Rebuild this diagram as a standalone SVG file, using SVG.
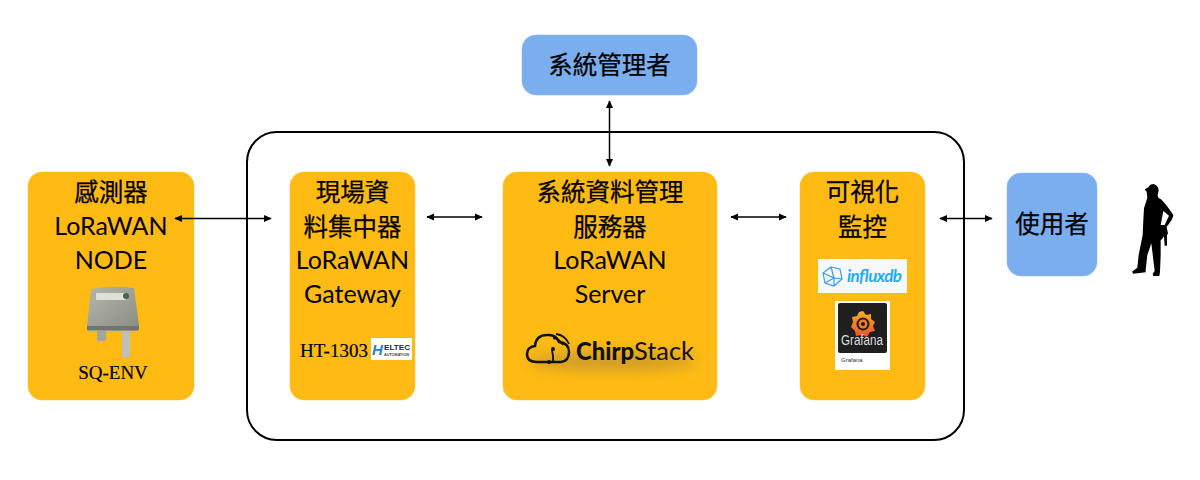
<svg xmlns="http://www.w3.org/2000/svg" width="1200" height="480" viewBox="0 0 1200 480">
<style>
.y{fill:#FFBB13;stroke:#F5C243;stroke-width:.5}
.b{fill:#7BAEEE;stroke:#8DB5E8;stroke-width:.5}
.t{font-family:"Lato","Noto Sans CJK TC","Noto Sans CJK SC",sans-serif;font-size:25px;fill:#000;text-anchor:middle}
.k{font-family:"Noto Sans CJK TC","Noto Sans CJK SC",sans-serif;font-size:24.500px;font-weight:400;fill:#000;stroke:#000;stroke-width:.25;text-anchor:middle}
.s{font-family:"Liberation Serif",serif;fill:#000;text-anchor:middle}
.c{fill:none;stroke:#000;stroke-width:1.500;marker-start:url(#a);marker-end:url(#a)}
</style>
<defs>
<marker id="a" viewBox="0 0 10 10" refX="9" refY="5" markerWidth="8" markerHeight="8" orient="auto-start-reverse" markerUnits="userSpaceOnUse"><path d="M0 0.500L10 5L0 9.500Z" fill="#000"/></marker>
<filter id="sh" x="-20%" y="-50%" width="140%" height="220%"><feGaussianBlur stdDeviation="7"/></filter>
<filter id="bl" x="-10%" y="-10%" width="120%" height="120%"><feGaussianBlur stdDeviation=".4"/></filter>
<linearGradient id="gf" x1="0" y1="0" x2="0" y2="1"><stop offset="0" stop-color="#F9B023"/><stop offset="1" stop-color="#EE4F2A"/></linearGradient>
<linearGradient id="bd" x1="0" y1="0" x2="1" y2="1"><stop offset="0" stop-color="#B5B6AB"/><stop offset="1" stop-color="#8A8C80"/></linearGradient>
</defs>
<rect id="frame" x="247" y="132" width="717" height="308" rx="30" fill="#fff" stroke="#000" stroke-width="2"/>
<g id="admin"><rect class="b" x="522" y="35" width="175" height="60" rx="14"/><text class="k" x="609.500" y="74">系統管理者</text></g>
<g id="sensor">
<rect class="y" x="28" y="172" width="166" height="228" rx="14"/>
<text class="k" x="111" y="201">感測器</text><text class="t" x="111" y="235">LoRaWAN</text><text class="t" x="111" y="269">NODE</text>
<g filter="url(#bl)">
<rect x="97" y="328" width="9" height="13" rx="2" fill="#A3A59B"/>
<rect x="122" y="328" width="8" height="29" rx="1" fill="#BFC0B8"/>
<path d="M91 289Q112 285 134 288L139 325L138 331L88 331L87 325Z" fill="url(#bd)"/>
<rect x="96" y="293" width="30" height="7" rx="1" fill="#DEDFD7"/>
<circle cx="126" cy="296" r="3" fill="#3F6B45"/>
<rect x="87" y="326" width="52" height="4" fill="#73756A"/>
</g>
<text class="s" x="113" y="379" font-size="19" font-weight="400" stroke="#000" stroke-width=".2">SQ-ENV</text>
</g>
<g id="gateway">
<rect class="y" x="290" y="172" width="125" height="228" rx="14"/>
<text class="k" x="352.500" y="201">現場資</text><text class="k" x="352.500" y="236">料集中器</text><text class="t" x="352.500" y="269">LoRaWAN</text><text class="t" x="352.500" y="303">Gateway</text>
<text class="s" x="334" y="357" font-size="19" stroke="#000" stroke-width=".2">HT-1303</text>
<rect x="371" y="338" width="41" height="22" fill="#fff"/>
<text x="372" y="355" font-family="Liberation Sans,sans-serif" font-weight="700" font-style="italic" font-size="15" fill="#2B7FD0">H</text>
<text x="384" y="350" font-family="Liberation Sans,sans-serif" font-weight="700" font-size="8" textLength="26" lengthAdjust="spacingAndGlyphs" fill="#1C2A44">ELTEC</text>
<text x="384" y="356" font-family="Liberation Sans,sans-serif" font-weight="700" font-size="3" textLength="25" lengthAdjust="spacingAndGlyphs" fill="#444">AUTOMATION</text>
</g>
<g id="server">
<rect class="y" x="503" y="172" width="214" height="228" rx="14"/>
<text class="k" x="610" y="201">系統資料管理</text><text class="k" x="610" y="236">服務器</text><text class="t" x="610" y="269">LoRaWAN</text><text class="t" x="610" y="303">Server</text>
<ellipse cx="612" cy="361" rx="85" ry="10" fill="#A8843A" opacity=".55" filter="url(#sh)"/>
<path d="M537 362H561Q569 361 569 352Q569 343 559 342Q556 334 547 335Q536 335 535 346Q527 347 527 354Q527 362 537 362Z" fill="none" stroke="#111" stroke-width="2.500"/>
<path d="M549 362H553L553 356L552 350" fill="none" stroke="#111" stroke-width="1.800"/><circle cx="553" cy="349" r="2" fill="#111"/><circle cx="549" cy="362" r="2" fill="#111"/>
<path d="M556 334Q565 335 569 344M553 338Q560 339 563 345" fill="none" stroke="#111" stroke-width="1.800"/>
<text x="576" y="360" font-family="Lato,sans-serif" font-size="25" font-weight="900" textLength="58" lengthAdjust="spacingAndGlyphs" fill="#111">Chirp</text>
<text x="634" y="360" font-family="Lato,sans-serif" font-size="25" textLength="60" lengthAdjust="spacingAndGlyphs" fill="#111">Stack</text>
</g>
<g id="monitor">
<rect class="y" x="800" y="172" width="125" height="228" rx="14"/>
<text class="k" x="862.500" y="201">可視化</text><text class="k" x="862.500" y="236">監控</text>
<rect x="818" y="259" width="89" height="34" fill="#F6F8FA"/>
<path d="M831 267L840 269L842 279L834 286L825 283L823 273ZM831 267L834 278L825 283M834 278L842 279M823 273L834 278L834 286" fill="none" stroke="#3D9BE9" stroke-width="1.200"/>
<text x="847" y="282" font-family="Lato,sans-serif" font-size="17" font-weight="700" font-style="italic" textLength="55" fill="#22ADF6">influxdb</text>
<rect x="835" y="301" width="55" height="69" fill="#fff"/>
<rect x="838" y="303" width="49" height="50" rx="2" fill="#1F1F20"/>
<path d="M863 311L866 315L871 314L871 319L875 322L873 326L875 331L870 332L867 337L862 335L856 336L855 331L851 327L853 322L852 317L857 316L859 312Z" fill="url(#gf)"/>
<circle cx="863" cy="324" r="6.500" fill="#1F1F20"/><circle cx="863" cy="324" r="4.500" fill="#F57A22"/><circle cx="863" cy="324" r="2" fill="#1F1F20"/>
<text x="841" y="345" font-family="Liberation Sans,sans-serif" font-size="14" fill="#ddd" textLength="42" lengthAdjust="spacingAndGlyphs">Grafana</text>
<text x="841" y="362" font-family="Liberation Sans,sans-serif" font-size="6" fill="#333">Grafana</text>
</g>
<g id="user">
<rect class="b" x="1007" y="173" width="90" height="103" rx="14"/><text class="k" x="1052" y="233">使用者</text>
<path fill-rule="evenodd" transform="translate(1120 175) scale(.3333)" d="M75 43L86 36Q90 27 100 27Q114 29 116 46L113 60Q112 68 122 72Q136 84 160 120Q160 132 140 155L142 166L144 176L141 180L141 212L134 212L132 184Q127 192 122 196L122 240L120 290L118 303L100 303L98 296L104 288L94 205L82 240L77 285L77 292L40 296L36 290L52 278L56 240L68 180L70 135L72 100L82 68L80 50L76 46ZM130 108L147 122L134 150L122 150Z" fill="#000"/>
</g>
<g id="connectors">
<path class="c" d="M609.500 101V166"/>
<path class="c" d="M175 218.500H271"/>
<path class="c" d="M427 217H482"/>
<path class="c" d="M731 217H786"/>
<path class="c" d="M940 218.500H992"/>
</g>
</svg>
